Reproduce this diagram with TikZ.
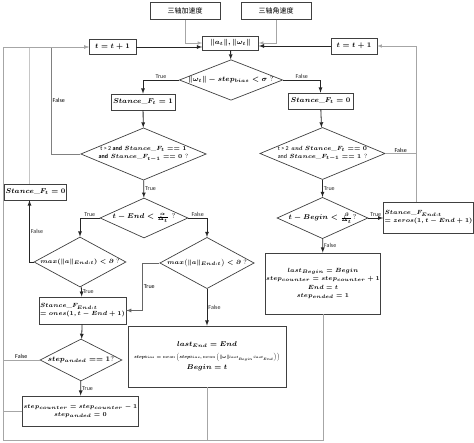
\documentclass[tikz,border=0pt]{standalone}
\usepackage{amsmath}
\usepackage{graphicx}
\usepackage{fontspec}
\setsansfont{Carlito}
\newfontfamily\cjk{Noto Sans CJK SC}
\usetikzlibrary{shapes.geometric,calc}

\begin{document}
\begin{tikzpicture}[x=1pt, y=-1pt,
    box/.style={draw=black!75, line width=0.7pt, fill=white, inner sep=1pt, font=\fontsize{7}{8.4}\selectfont\boldmath},
    dec/.style={draw=black!75, line width=0.7pt, diamond, inner sep=0pt, align=center, font=\fontsize{7}{8.4}\selectfont\boldmath},
    arr/.style={->, >=latex, line width=0.8pt, black!85},
    back/.style={->, >=latex, line width=0.6pt, gray!70},
    lbl/.style={font=\sffamily\fontsize{6}{7}\selectfont, inner sep=1pt}]
    \useasboundingbox (0,0) rectangle (474,443);

    % Inputs
    \node[box, minimum width=70pt, minimum height=17pt, font=\cjk\fontsize{7}{8}\selectfont] (acc) at (185,11) {三轴加速度};
    \node[box, minimum width=70pt, minimum height=17pt, font=\cjk\fontsize{7}{8}\selectfont] (gyr) at (276,11) {三轴角速度};
    \node[box, minimum width=56pt, minimum height=14pt] (norm) at (230.5,43) {$\|a_t\|, \|\omega_t\|$};
    \node[box, minimum width=47pt, minimum height=15pt] (incL) at (112.5,47) {$t = t + 1$};
    \node[box, minimum width=46pt, minimum height=16pt] (incR) at (354,46) {$t = t + 1$};

    % Stance test
    \node[dec, minimum width=92pt, minimum height=36pt, aspect=2.55] (d1) at (231,80) {$\|\omega_t\| - step_{bias} < \sigma$ ?};
    \node[box, minimum width=64pt, minimum height=16pt] (sf1) at (143,102) {$Stance\_F_t = 1$};
    \node[box, minimum width=65pt, minimum height=16pt] (sf0) at (320.5,101) {$Stance\_F_t = 0$};

    % Left branch (step end)
    \node[dec, minimum width=123pt, minimum height=51pt, aspect=2.4, font=\fontsize{6}{8}\selectfont\boldmath] (d2) at (143.5,154)
        {\textsf{t > 2 \textbf{and}} $Stance\_F_t == 1$\\ \textsf{\textbf{and}} $Stance\_F_{t-1} == 0$ ?};
    \node[dec, minimum width=88pt, minimum height=40pt, aspect=2.2] (d3) at (144,218) {$t - End < \frac{\alpha}{\Delta_t}$ ?};
    \node[dec, minimum width=92pt, minimum height=50pt, aspect=1.84, font=\fontsize{6.5}{8}\selectfont\boldmath] (d4) at (80,262) {$max(\|a\|_{End:t}) < \partial$ ?};
    \node[dec, minimum width=92pt, minimum height=50pt, aspect=1.84, font=\fontsize{6.5}{8}\selectfont\boldmath] (d5) at (207,263) {$max\big(\|a\|_{End:t}\big) < \partial$ ?};
    \node[box, minimum width=55pt, minimum height=16pt] (sfL) at (35.5,192) {$Stance\_F_t = 0$};
    \node[box, minimum width=85pt, minimum height=27pt, align=left, font=\fontsize{6.5}{8}\selectfont\boldmath] (ones) at (82.5,310.5)
        {$Stance\_F_{End:t}$\\$= ones(1, t - End + 1)$};
    \node[box, minimum width=158pt, minimum height=61pt, align=center] (bigE) at (207,356.5)
        {$last_{End} = End$\\[3pt]
         \resizebox{146pt}{!}{$step_{bias} = \textnormal{mean}\left(step_{bias}, \textnormal{mean}\left(\|\omega\|_{last_{Begin}:last_{End}}\right)\right)$}\\[3pt]
         $Begin = t$};
    \node[dec, minimum width=82pt, minimum height=42pt, aspect=1.95] (d6) at (81,360) {$step_{anded} == 1$?};
    \node[box, minimum width=105pt, minimum height=30pt, align=center, font=\fontsize{6.5}{8}\selectfont\boldmath] (cnt) at (80.5,411)
        {$step_{counter} = step_{counter} - 1$\\$step_{anded} = 0$};

    % Right branch (step begin)
    \node[dec, minimum width=123pt, minimum height=51pt, aspect=2.4, font=\fontsize{6}{8}\selectfont\boldmath] (d7) at (322.5,153.5)
        {\textsf{t > 2} \textit{\textbf{and}} $Stance\_F_t == 0$\\ \textsf{and} $Stance\_F_{t-1} == 1$ ?};
    \node[dec, minimum width=87pt, minimum height=40pt, aspect=2.2] (d8) at (322.5,218) {$t - Begin < \frac{\beta}{\Delta_t}$?};
    \node[box, minimum width=89pt, minimum height=31pt, align=left, font=\fontsize{6.5}{8}\selectfont\boldmath] (zeros) at (428.5,217.5)
        {$Stance\_F_{End:t}$\\$= zeros(1, t - End + 1)$};
    \node[box, minimum width=108pt, minimum height=61pt, align=center, font=\fontsize{6.5}{8.2}\selectfont\boldmath] (lastB) at (323,283.5)
        {$last_{Begin} = Begin$\\$step_{counter} = step_{counter} + 1$\\$End = t$\\$step_{ended} = 1$};

    \coordinate (corner) at (3,440);
    \coordinate (up) at ([xshift=-12.5pt]zeros.north);

    % Connectors
    \draw[back] (acc.south) |- (norm.west);
    \draw[back] (gyr.south) |- (norm.east);
    \draw[arr] (incL.east) -- (incL.east -| norm.west);
    \draw[arr] (incR.west) -- (incR.west -| norm.east);
    \draw[arr] (norm) -- (d1);
    \draw[arr] (d1.west) -| node[lbl, pos=0.25, above] {True} (sf1.north);
    \draw[arr] (d1.east) -| node[lbl, pos=0.25, above] {False} (sf0.north);
    \draw[arr] (sf1) -- (d2);
    \draw[arr] (sf0) -- (d7);

    \draw[back, gray] (d2.west) -- ++(-29,0) |- node[lbl, pos=0.25, right, black] {False} (incL.west);
    \draw[arr] (d2) -- node[lbl, right] {True} (d3);
    \draw[arr] (d3.west) -| node[lbl, pos=0.25, above] {True} (d4.north);
    \draw[arr] (d3.east) -| node[lbl, pos=0.25, above] {False} (d5.north);
    \draw[arr] (d4.west) -| node[lbl, pos=0.75, right] {False} ([xshift=-6pt]sfL.south);
    \draw[back, gray!45] ([xshift=-6pt]sfL.north) |- (incL.west);
    \draw[arr] (d4) -- node[lbl, right] {True} (ones);
    \draw[arr, gray!80!black] (d5.west) -- ++(-17,0) |- node[lbl, pos=0.25, right, black] {True} (ones.east);
    \draw[arr] (d5) -- node[lbl, right] {False} (bigE);
    \draw[arr] (ones) -- (d6);
    \draw[arr] (d6) -- node[lbl, right] {True} (cnt);
    \draw[back, -] (d6.west) -- node[lbl, above, black] {False} (d6.west -| corner);
    \draw[back, -] (cnt.west) -- (cnt.west -| corner);
    \draw[back, -] (bigE.south) -- (bigE.south |- corner);
    \draw[back] (lastB.south) |- (corner) |- (incL.west);

    \draw[arr] (d7) -- node[lbl, right] {True} (d8);
    \draw[arr] (d8.east) -- node[lbl, above] {True} (d8.east -| zeros.west);
    \draw[arr] (d8) -- node[lbl, right] {False} (lastB);
    \draw[back] (up) |- (incR.east);
    \draw[back, -] (d7.east) -- node[lbl, above, black] {False} (d7.east -| up);
\end{tikzpicture}
\end{document}
